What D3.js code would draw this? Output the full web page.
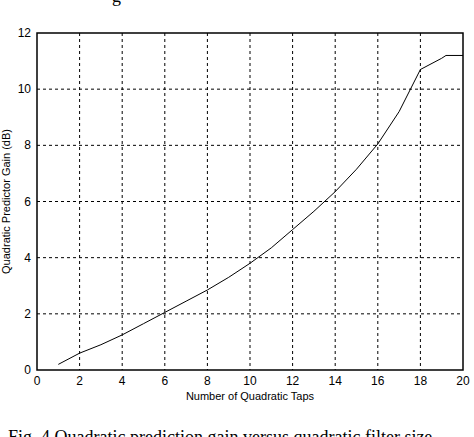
<!DOCTYPE html>
<html><head><meta charset="utf-8">
<script src="https://cdn.jsdelivr.net/npm/d3@7"></script>
<style>body{margin:0;background:#fff}</style></head>
<body><svg id="c" width="474" height="437"></svg>
<script>
const taps = [1,2,3,4,5,6,7,8,9,10,11,12,13,14,15,16,17,18,19,19.2,20];
const gain = [0.2,0.6,0.9,1.25,1.65,2.05,2.45,2.85,3.3,3.8,4.35,5.0,5.65,6.35,7.15,8.05,9.2,10.7,11.1,11.2,11.2];
const xTicks = [0,2,4,6,8,10,12,14,16,18,20];
const yTicks = [0,2,4,6,8,10,12];

const svg = d3.select("#c");
const m = {l:37,r:463,t:33,b:370};
const x = d3.scaleLinear().domain([0,20]).range([m.l,m.r]);
const y = d3.scaleLinear().domain([0,12]).range([m.b,m.t]);
const font = "Liberation Sans, Arial, sans-serif";

// grid
svg.append("g").selectAll("line").data(xTicks.slice(1,-1)).join("line")
  .attr("x1",d=>x(d)).attr("x2",d=>x(d)).attr("y1",m.t).attr("y2",m.b)
  .attr("stroke","#000").attr("stroke-dasharray","3,3").attr("stroke-width",1);
svg.append("g").selectAll("line").data(yTicks.slice(1,-1)).join("line")
  .attr("y1",d=>y(d)).attr("y2",d=>y(d)).attr("x1",m.l).attr("x2",m.r)
  .attr("stroke","#000").attr("stroke-dasharray","3,3").attr("stroke-width",1);
svg.append("rect").attr("x",m.l).attr("y",m.t).attr("width",m.r-m.l).attr("height",m.b-m.t)
  .attr("fill","none").attr("stroke","#000").attr("stroke-width",1.5);

// axes labels
svg.append("g").selectAll("text").data(xTicks).join("text")
  .attr("x",d=>x(d)).attr("y",m.b+15).attr("text-anchor","middle")
  .attr("font-family",font).attr("font-size",12).text(d=>d);
svg.append("g").selectAll("text").data(yTicks).join("text")
  .attr("x",m.l-6).attr("y",d=>y(d)+4).attr("text-anchor","end")
  .attr("font-family",font).attr("font-size",12).text(d=>d);
svg.append("text").attr("x",(m.l+m.r)/2).attr("y",m.b+30).attr("text-anchor","middle")
  .attr("font-family",font).attr("font-size",11).text("Number of Quadratic Taps");
svg.append("text").attr("transform",`translate(10,${(m.t+m.b)/2}) rotate(-90)`)
  .attr("text-anchor","middle").attr("font-family",font).attr("font-size",11)
  .text("Quadratic Predictor Gain (dB)");

// curve
svg.append("path").datum(taps.map((t,i)=>[t,gain[i]]))
  .attr("d",d3.line().x(d=>x(d[0])).y(d=>y(d[1])))
  .attr("fill","none").attr("stroke","#000").attr("stroke-width",1);

// caption (cut off)
svg.append("text").attr("x",8).attr("y",443).attr("font-family","Liberation Serif, Times New Roman, serif")
  .attr("font-size",18).text("Fig. 4 Quadratic prediction gain versus quadratic filter size");
svg.append("text").attr("x",112).attr("y",2).attr("font-family","Liberation Serif, Times New Roman, serif")
  .attr("font-size",18).text("g");
</script></body></html>
